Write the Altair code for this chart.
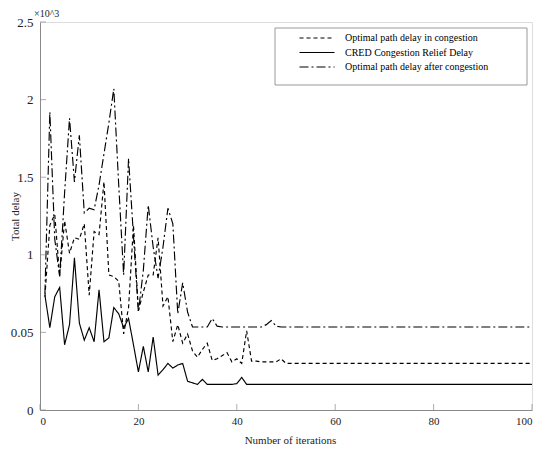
import altair as alt
import pandas as pd

# ---------------- data ----------------
ITERATIONS = list(range(1, 101))

SERIES_NAMES = [
    "Optimal path delay in congestion",
    "CRED Congestion Relief Delay",
    "Optimal path delay after congestion",
]

# dashed: optimal path delay in congestion (x10^3)
IN_CONGESTION = [
    0.73, 1.19, 1.26, 0.86, 1.22, 1.01, 1.11, 1.10, 1.20, 0.74,
    1.15, 1.13, 1.47, 0.87, 0.86, 0.83, 0.49, 0.66, 1.19, 0.64,
    0.76, 0.87, 0.87, 1.11, 0.67, 0.73, 0.44, 0.55, 0.43, 0.49,
    0.38, 0.34, 0.39, 0.43, 0.32, 0.33, 0.35, 0.37, 0.31, 0.33,
    0.30, 0.51, 0.315, 0.315, 0.31, 0.31, 0.31, 0.31, 0.33, 0.30,
] + [0.30] * 50

# solid: CRED congestion relief delay
CRED = [
    0.74, 0.53, 0.73, 0.79, 0.42, 0.55, 0.98, 0.56, 0.45, 0.53,
    0.44, 0.775, 0.44, 0.465, 0.66, 0.62, 0.53, 0.59, 0.42, 0.245,
    0.41, 0.245, 0.47, 0.225, 0.26, 0.30, 0.27, 0.29, 0.30, 0.185,
    0.175, 0.165, 0.197, 0.165, 0.165, 0.165, 0.165, 0.165, 0.165, 0.17,
    0.21, 0.165, 0.165, 0.165, 0.165, 0.165, 0.165, 0.165, 0.165, 0.165,
] + [0.165] * 50

# dash-dot: optimal path delay after congestion
AFTER_CONGESTION = [
    0.75, 1.92, 1.10, 0.86, 1.40, 1.88, 1.47, 1.77, 1.27, 1.30,
    1.29, 1.45, 1.65, 1.85, 2.07, 1.45, 0.87, 1.62, 1.12, 0.63,
    0.90, 1.32, 1.05, 0.85, 1.05, 1.30, 1.20, 0.62, 0.82, 0.63,
    0.535, 0.535, 0.535, 0.535, 0.59, 0.54, 0.535, 0.535, 0.535, 0.535,
    0.535, 0.535, 0.535, 0.535, 0.535, 0.55, 0.577, 0.54, 0.535, 0.535,
] + [0.535] * 50

X_TICKS = [0, 20, 40, 60, 80, 100]
Y_TICKS = [0, 0.5, 1, 1.5, 2, 2.5]
Y_TICK_LABELS = ["0", "0.05", "1", "1.5", "2", "2.5"]
SCALE_NOTE = "×10^3"

# ---------------- build tables ----------------
rows = []
for name, vals in zip(SERIES_NAMES, [IN_CONGESTION, CRED, AFTER_CONGESTION]):
    for it, v in zip(ITERATIONS, vals):
        rows.append({"iteration": it, "delay": v, "series": name})
df = pd.DataFrame(rows)

label_expr = " : ".join(
    [f"datum.value == {v} ? '{t}'" for v, t in zip(Y_TICKS, Y_TICK_LABELS)] + ["''"]
)

FONT = "Liberation Serif"
W, H = 492, 388
AXIS_COLOR = "#8a8a8a"

x_scale = alt.Scale(domain=[0, 100], nice=False)
y_scale = alt.Scale(domain=[0, 2.5], nice=False)

lines = alt.Chart(df).mark_line(color="black", strokeWidth=1.15).encode(
    x=alt.X(
        "iteration:Q",
        scale=x_scale,
        axis=alt.Axis(
            values=X_TICKS,
            ticks=False,
            labelPadding=5,
            labelFontSize=11,
            labelFont=FONT,
            labelColor="#222",
            title="Number of iterations",
            titleFont=FONT,
            titleFontSize=11,
            titleFontWeight="normal",
            titleColor="#222",
            titleY=30,
            titleX=250,
            titleBaseline="middle",
            domainColor=AXIS_COLOR,
            grid=False,
        ),
    ),
    y=alt.Y(
        "delay:Q",
        scale=y_scale,
        axis=alt.Axis(
            values=Y_TICKS,
            labelExpr=label_expr,
            ticks=False,
            labelPadding=7,
            labelFontSize=13,
            labelFont=FONT,
            labelColor="#222",
            title="Total delay",
            titleFont=FONT,
            titleFontSize=11,
            titleFontWeight="normal",
            titleColor="#222",
            titleX=-25,
            titleY=194,
            titleBaseline="middle",
            domainColor=AXIS_COLOR,
            grid=False,
        ),
    ),
    strokeDash=alt.StrokeDash(
        "series:N",
        scale=alt.Scale(
            domain=SERIES_NAMES,
            range=[[4, 3], [1, 0], [9, 3, 2, 3]],
        ),
        legend=alt.Legend(
            title=None,
            orient="none",
            legendX=258,
            legendY=11,
            padding=0,
            symbolType="M-5,0H5",
            symbolSize=49,
            symbolOffset=14,
            symbolStrokeWidth=1.1,
            symbolStrokeColor="black",
            labelOffset=23,
            labelFont=FONT,
            labelFontSize=10,
            labelColor="black",
            labelLimit=300,
            rowPadding=4.5,
        ),
    ),
    order="iteration:Q",
)

ytick_df = pd.DataFrame({"v": Y_TICKS})
y_ticks = alt.Chart(ytick_df).mark_tick(color=AXIS_COLOR, size=6, thickness=1, orient="horizontal").encode(
    y=alt.Y("v:Q", scale=y_scale),
    x=alt.value(3),
)

xtick_df = pd.DataFrame({"v": X_TICKS})
x_ticks = alt.Chart(xtick_df).mark_tick(color=AXIS_COLOR, size=6, thickness=1, orient="vertical").encode(
    x=alt.X("v:Q", scale=x_scale),
    y=alt.value(H - 3),
)

note = alt.Chart(pd.DataFrame({"t": [SCALE_NOTE]})).mark_text(
    font=FONT, fontSize=10, align="left", baseline="middle", color="#222"
).encode(
    x=alt.value(-6),
    y=alt.value(-8),
    text="t:N",
)

legend_box = alt.Chart(pd.DataFrame({"t": [0]})).mark_rect(
    fillOpacity=0, stroke="#999", strokeWidth=1
).encode(
    x=alt.value(235),
    x2=alt.value(487),
    y=alt.value(6),
    y2=alt.value(63),
)

chart = (
    alt.layer(legend_box, lines, y_ticks, x_ticks, note)
    .properties(
        width=W,
        height=H,
        autosize="none",
        padding={"left": 32, "top": 14, "right": 10, "bottom": 43},
    )
    .configure_view(stroke=None)
    .configure(background="white")
)

chart.save("out.html", embed_options={"renderer": "svg", "actions": False})
